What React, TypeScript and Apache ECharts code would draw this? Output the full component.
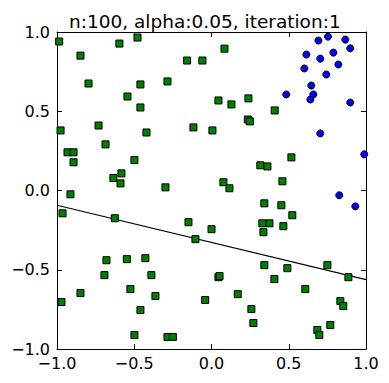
import React, { useEffect, useRef } from "react";
import * as echarts from "echarts";

const squareX = [
  -0.986, -0.596, -0.479, -0.848, -0.158, -0.059, -0.796, -0.46, -0.285, -0.544,
  -0.46, -0.977, -0.731, -0.117, -0.421, 0.006, -0.686, -0.932, -0.893, -0.893,
  -0.499, -0.635, -0.583, -0.589, -0.298,
  0.084, 0.045, 0.129, 0.239, 0.409, 0.235, 0.248, 0.517, 0.316, 0.362,
  0.077, 0.116, 0.459,
  -0.913, -0.964, -0.626, -0.149, -0.104, 0.0, -0.68, -0.548, -0.428, -0.693,
  -0.389, -0.525, -0.848, -0.363, -0.971, -0.46, -0.041, -0.499, -0.285, -0.25,
  0.342, 0.452, 0.523, 0.329, 0.375, 0.465, 0.336, 0.342, 0.491, 0.75,
  0.886, 0.045, 0.052, 0.407, 0.607, 0.17, 0.834, 0.853, 0.258, 0.271,
  0.769, 0.685, 0.698,
];
const squareY = [
  0.94, 0.927, 0.965, 0.851, 0.82, 0.82, 0.675, 0.669, 0.688, 0.593,
  0.524, 0.379, 0.41, 0.398, 0.366, 0.379, 0.291, 0.241, 0.241, 0.178,
  0.192, 0.079, 0.108, 0.045, 0.02,
  0.895, 0.568, 0.543, 0.581, 0.505, 0.448, 0.436, 0.209, 0.159, 0.152,
  0.052, 0.014, 0.058,
  -0.024, -0.144, -0.175, -0.2, -0.307, -0.244, -0.44, -0.433, -0.427, -0.534,
  -0.534, -0.622, -0.647, -0.666, -0.704, -0.754, -0.691, -0.912, -0.924, -0.924,
  -0.081, -0.093, -0.156, -0.207, -0.207, -0.225, -0.263, -0.471, -0.49, -0.471,
  -0.547, -0.547, -0.54, -0.559, -0.622, -0.654, -0.698, -0.729, -0.748, -0.836,
  -0.849, -0.88, -0.912,
];
const circleX = [
  0.754, 0.692, 0.866, 0.898, 0.614, 0.789, 0.704, 0.821, 0.601, 0.743,
  0.646, 0.484, 0.659, 0.64, 0.898, 0.704, 0.989, 0.827, 0.931,
];
const circleY = [
  0.971, 0.946, 0.952, 0.897, 0.858, 0.87, 0.832, 0.795, 0.77, 0.732,
  0.662, 0.606, 0.606, 0.574, 0.555, 0.36, 0.228, -0.03, -0.1,
];
const lineX = [-1, 1];
const lineY = [-0.093, -0.562];
const axisTicks = [-1, -0.5, 0, 0.5, 1];

const FONT = "DejaVu Sans";

const zip = (xs: number[], ys: number[]) => xs.map((x, i) => [x, ys[i]]);
const fmt = (v: number) => (v < 0 ? "\u2212" : "") + Math.abs(v).toFixed(1);

export default function App() {
  const ref = useRef<HTMLDivElement>(null);
  useEffect(() => {
    if (!ref.current) return;
    const chart = echarts.init(ref.current, undefined, { renderer: "svg" });
    const step = axisTicks[1] - axisTicks[0];
    const baseAxis = (pos: string, showLabel: boolean, margin: number) => ({
      type: "value",
      position: pos,
      min: axisTicks[0],
      max: axisTicks[axisTicks.length - 1],
      interval: step,
      splitLine: { show: false },
      axisLine: { show: true, onZero: false, lineStyle: { color: "#000", width: 1 } },
      axisTick: { show: true, inside: true, length: 5, lineStyle: { color: "#000", width: 1 } },
      axisLabel: {
        show: showLabel,
        showMinLabel: true,
        showMaxLabel: true,
        margin,
        color: "#000",
        fontFamily: FONT,
        fontSize: 16,
        formatter: fmt,
      },
    });
    chart.setOption({
      animation: false,
      backgroundColor: "#fff",
      title: {
        text: "n:100, alpha:0.05, iteration:1",
        left: 64,
        top: 7,
        textStyle: { fontFamily: FONT, fontSize: 18.5, fontWeight: "normal", color: "#000" },
      },
      grid: { left: 57, right: 23, top: 32, bottom: 34, containLabel: false },
      xAxis: [baseAxis("bottom", true, 6), baseAxis("top", false, 6)],
      yAxis: [baseAxis("left", true, 7), baseAxis("right", false, 7)],
      series: [
        {
          type: "line",
          data: zip(lineX, lineY),
          symbol: "none",
          lineStyle: { color: "#000", width: 1.2 },
          z: 1,
        },
        {
          type: "scatter",
          data: zip(squareX, squareY),
          symbol: "rect",
          symbolSize: 7,
          itemStyle: { color: "#008000", borderColor: "#000", borderWidth: 1, opacity: 1 },
          z: 2,
        },
        {
          type: "scatter",
          data: zip(circleX, circleY),
          symbol: "circle",
          symbolSize: 7,
          itemStyle: { color: "#0000ff", borderColor: "#000", borderWidth: 1, opacity: 1 },
          z: 2,
        },
      ],
    });
    return () => chart.dispose();
  }, []);
  return (
    <div
      ref={ref}
      style={{ position: "absolute", left: 0, top: 0, width: 389, height: 383 }}
    />
  );
}
